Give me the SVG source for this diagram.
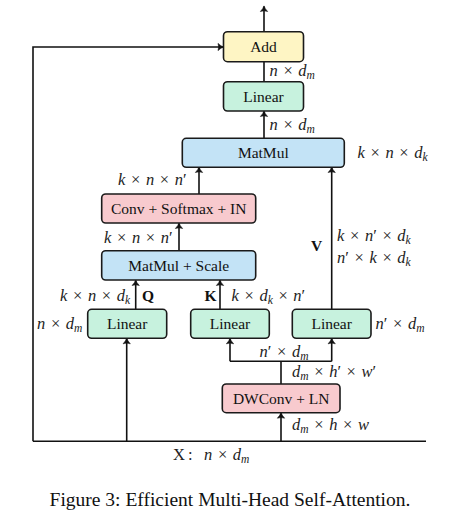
<svg xmlns="http://www.w3.org/2000/svg" width="474" height="526" viewBox="0 0 474 526">
<defs>
<marker id="ah" markerWidth="10" markerHeight="10" viewBox="-6 -5 8 10" refX="0" refY="0" orient="auto" markerUnits="userSpaceOnUse">
<path d="M-5,-3.6 Q-2,-0.8 0.6,0 Q-2,0.8 -5,3.6 Q-3.6,0 -5,-3.6 Z" fill="#111" stroke="#111" stroke-width="0.6"/>
</marker>
<style>
.box{stroke:#1a1a1a;stroke-width:1.6}
.yel{fill:#FEF5C4}.grn{fill:#C7F2DE}.blu{fill:#C3E3F6}.pnk{fill:#F8CACE}
.lbl{font-family:"Liberation Serif","Times New Roman",serif;font-size:15.5px;fill:#111;text-anchor:middle}
.m{font-family:"Liberation Serif","Times New Roman",serif;font-size:16.5px;fill:#222;word-spacing:1.5px}
.i{font-style:italic}
.s{font-size:11.5px;font-style:italic}
.b{font-family:"Liberation Serif","Times New Roman",serif;font-size:15.5px;font-weight:bold;fill:#111}
.ln{fill:none;stroke:#111;stroke-width:1.6}
.cap{font-family:"Liberation Serif","Times New Roman",serif;font-size:19.5px;fill:#111;text-anchor:middle}
</style>
</defs>

<g id="connectors">
<path class="ln" d="M264,31.7 V6.5" marker-end="url(#ah)"/>
<path class="ln" d="M33,441.3 V47 H223" marker-end="url(#ah)"/>
<path class="ln" d="M264,81.7 V61.7"/>
<path class="ln" d="M264,138.3 V111.5" marker-end="url(#ah)"/>
<path class="ln" d="M199,194 V167.5" marker-end="url(#ah)"/>
<path class="ln" d="M179,250.7 V223.5" marker-end="url(#ah)"/>
<path class="ln" d="M135.7,309.3 V280.5" marker-end="url(#ah)"/>
<path class="ln" d="M220,309.3 V280.5" marker-end="url(#ah)"/>
<path class="ln" d="M331.7,309.3 V167.5" marker-end="url(#ah)"/>
<path class="ln" d="M126.7,441.3 V338.8" marker-end="url(#ah)"/>
<path class="ln" d="M281,384 V361.3"/>
<path class="ln" d="M230,361.3 H331.7"/>
<path class="ln" d="M230,361.3 V338.8" marker-end="url(#ah)"/>
<path class="ln" d="M331.7,361.3 V338.8" marker-end="url(#ah)"/>
<path class="ln" d="M281,441.3 V413.2" marker-end="url(#ah)"/>
<path class="ln" d="M33,441.3 H426"/>
</g>

<g id="add"><rect class="box yel" x="223.5" y="31.7" width="80" height="30" rx="4"/><text class="lbl" x="263.5" y="52">Add</text></g>
<g id="linear-out"><rect class="box grn" x="223.5" y="81.7" width="80" height="29.3" rx="4"/><text class="lbl" x="263.5" y="101.5">Linear</text></g>
<g id="matmul"><rect class="box blu" x="182.3" y="138.3" width="162" height="29" rx="4"/><text class="lbl" x="263.3" y="158">MatMul</text></g>
<g id="conv-softmax-in"><rect class="box pnk" x="101.7" y="194" width="154" height="29" rx="4"/><text class="lbl" x="178.7" y="213.8">Conv + Softmax + IN</text></g>
<g id="matmul-scale"><rect class="box blu" x="101.7" y="250.7" width="154" height="29.3" rx="4"/><text class="lbl" x="178.7" y="270.6">MatMul + Scale</text></g>
<g id="linear-q"><rect class="box grn" x="87.7" y="309.3" width="79" height="29" rx="4"/><text class="lbl" x="127.2" y="329">Linear</text></g>
<g id="linear-k"><rect class="box grn" x="190.7" y="309.3" width="78.6" height="29" rx="4"/><text class="lbl" x="230" y="329">Linear</text></g>
<g id="linear-v"><rect class="box grn" x="292.3" y="309.3" width="78.7" height="29" rx="4"/><text class="lbl" x="331.7" y="329">Linear</text></g>
<g id="dwconv-ln"><rect class="box pnk" x="222.3" y="384" width="117.7" height="28.7" rx="4"/><text class="lbl" x="281.2" y="403.6">DWConv + LN</text></g>

<g id="labels">
<text class="m" x="269.5" y="76"><tspan class="i">n</tspan> × <tspan class="i">d</tspan><tspan class="s" dy="3">m</tspan></text>
<text class="m" x="269.5" y="130"><tspan class="i">n</tspan> × <tspan class="i">d</tspan><tspan class="s" dy="3">m</tspan></text>
<text class="m" x="357.5" y="158"><tspan class="i">k</tspan> × <tspan class="i">n</tspan> × <tspan class="i">d</tspan><tspan class="s" dy="3">k</tspan></text>
<text class="m" x="118" y="185"><tspan class="i">k</tspan> × <tspan class="i">n</tspan> × <tspan class="i">n</tspan>′</text>
<text class="m" x="104" y="242.5"><tspan class="i">k</tspan> × <tspan class="i">n</tspan> × <tspan class="i">n</tspan>′</text>
<text class="m" x="60" y="301"><tspan class="i">k</tspan> × <tspan class="i">n</tspan> × <tspan class="i">d</tspan><tspan class="s" dy="3">k</tspan></text>
<text class="b" x="142" y="301">Q</text>
<text class="b" x="204.5" y="301">K</text>
<text class="m" x="231.5" y="301"><tspan class="i">k</tspan> × <tspan class="i">d</tspan><tspan class="s" dy="3">k</tspan><tspan dy="-3"> × </tspan><tspan class="i">n</tspan>′</text>
<text class="b" x="311" y="251">V</text>
<text class="m" x="337" y="241"><tspan class="i">k</tspan> × <tspan class="i">n</tspan>′ × <tspan class="i">d</tspan><tspan class="s" dy="3">k</tspan></text>
<text class="m" x="337" y="262.5"><tspan class="i">n</tspan>′ × <tspan class="i">k</tspan> × <tspan class="i">d</tspan><tspan class="s" dy="3">k</tspan></text>
<text class="m" x="37" y="328.5"><tspan class="i">n</tspan> × <tspan class="i">d</tspan><tspan class="s" dy="3">m</tspan></text>
<text class="m" x="375.5" y="328.5"><tspan class="i">n</tspan>′ × <tspan class="i">d</tspan><tspan class="s" dy="3">m</tspan></text>
<text class="m" x="259.5" y="356.5"><tspan class="i">n</tspan>′ × <tspan class="i">d</tspan><tspan class="s" dy="3">m</tspan></text>
<text class="m" x="292" y="377"><tspan class="i">d</tspan><tspan class="s" dy="3">m</tspan><tspan dy="-3"> × </tspan><tspan class="i">h</tspan>′ × <tspan class="i">w</tspan>′</text>
<text class="m" x="292" y="430"><tspan class="i">d</tspan><tspan class="s" dy="3">m</tspan><tspan dy="-3"> × </tspan><tspan class="i">h</tspan> × <tspan class="i">w</tspan></text>
<text class="m" x="173" y="459.5">X<tspan x="188">:</tspan><tspan class="i" x="204">n</tspan> × <tspan class="i">d</tspan><tspan class="s" dy="3">m</tspan></text>
</g>

<text class="cap" x="230" y="505.5">Figure 3: Efficient Multi-Head Self-Attention.</text>
</svg>
